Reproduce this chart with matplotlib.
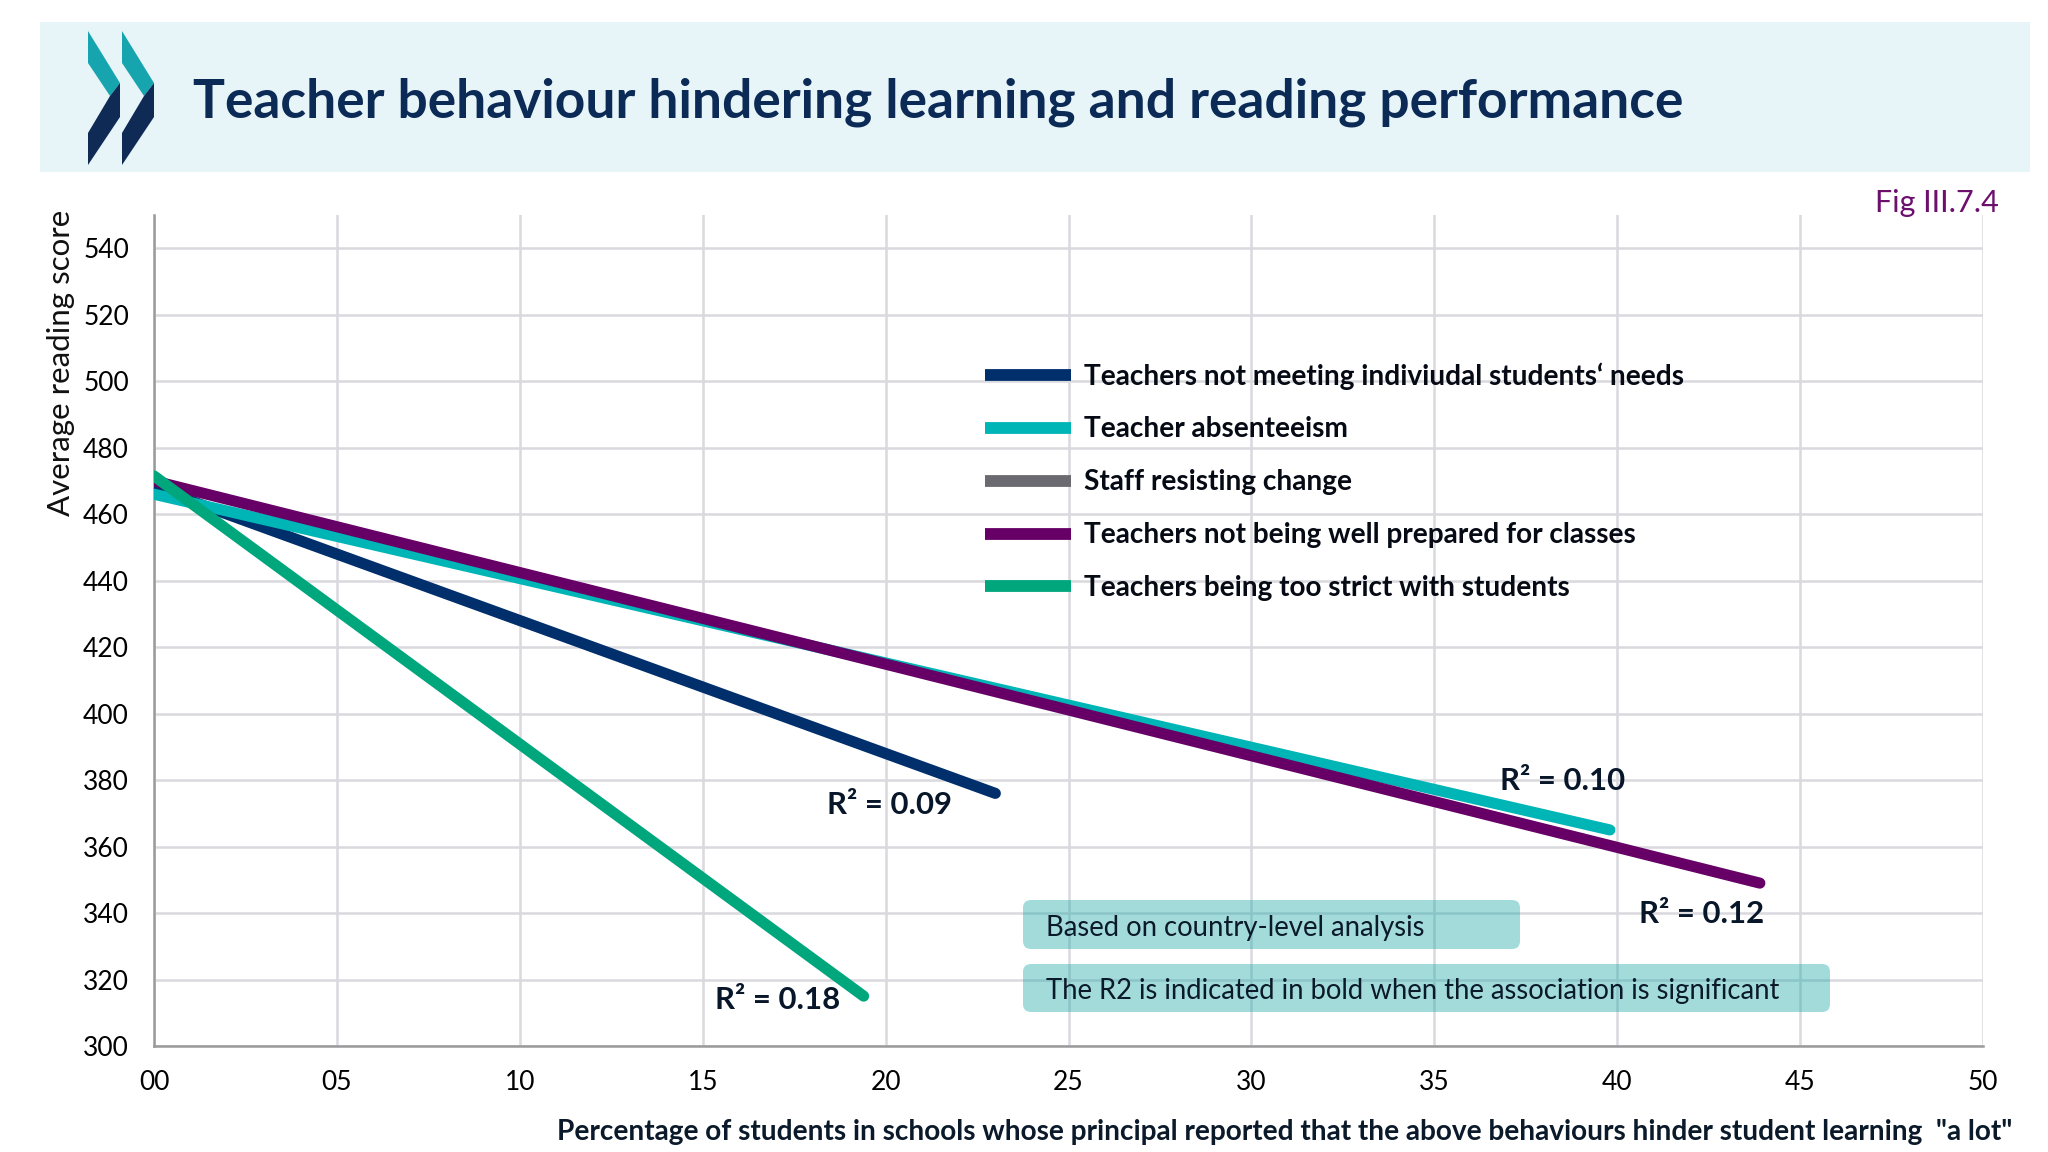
import matplotlib
matplotlib.use("Agg")
import matplotlib.pyplot as plt
from matplotlib.lines import Line2D
from matplotlib.patches import Polygon, FancyBboxPatch, Rectangle

plt.rcParams["font.family"] = ["Lato", "DejaVu Sans"]

# Series (start and end of each fitted line)
not_meeting_x = [0, 23.0]
not_meeting_y = [468, 376]
absenteeism_x = [0, 39.8]
absenteeism_y = [466, 365]
not_prepared_x = [0, 43.9]
not_prepared_y = [470, 349]
too_strict_x = [0, 19.4]
too_strict_y = [471.5, 315]

x_ticks = [0, 5, 10, 15, 20, 25, 30, 35, 40, 45, 50]
x_tick_labels = ["00", "05", "10", "15", "20", "25", "30", "35", "40", "45", "50"]
y_ticks = [300, 320, 340, 360, 380, 400, 420, 440, 460, 480, 500, 520, 540]

legend_labels = [
    "Teachers not meeting indiviudal students\u2018 needs",
    "Teacher absenteeism",
    "Staff resisting change",
    "Teachers not being well prepared for classes",
    "Teachers being too strict with students",
]
legend_colors = ["#002F6C", "#00B5B5", "#6A6A70", "#670066", "#00A67C"]

W, H = 2048, 1152
fig = plt.figure(figsize=(W / 100, H / 100), dpi=100, facecolor="white")

# Full figure overlay in pixel coordinates for banner and notes
bg = fig.add_axes([0, 0, 1, 1], zorder=0)
bg.set_xlim(0, W)
bg.set_ylim(H, 0)
bg.axis("off")
bg.add_patch(Rectangle((40, 22), 1990, 150, color="#E7F5F9", lw=0))
for dx in [0, 34]:
    bg.add_patch(Polygon([(88 + dx, 31), (88 + dx, 63), (110 + dx, 96), (120 + dx, 83)],
                         color="#16A5AE", lw=0))
    bg.add_patch(Polygon([(120 + dx, 83), (120 + dx, 117), (88 + dx, 165), (88 + dx, 133), (110 + dx, 96)],
                         color="#0F2A55", lw=0))
bg.text(193, 102, "Teacher behaviour hindering learning and reading performance",
        fontsize=38.4, fontweight="bold", color="#0B2A55", va="center", ha="left")
bg.text(1999, 203, "Fig III.7.4", fontsize=22, color="#6D0F6D", va="center", ha="right")

ax = fig.add_axes([154 / W, 1 - 1046 / H, (1983 - 154) / W, (1046 - 215) / H], zorder=1)
ax.patch.set_alpha(0)
ax.plot(not_meeting_x, not_meeting_y, color=legend_colors[0], lw=8, solid_capstyle="round", zorder=3)
ax.plot(absenteeism_x, absenteeism_y, color=legend_colors[1], lw=8, solid_capstyle="round", zorder=3)
ax.plot(not_prepared_x, not_prepared_y, color=legend_colors[3], lw=8, solid_capstyle="round", zorder=3)
ax.plot(too_strict_x, too_strict_y, color=legend_colors[4], lw=8, solid_capstyle="round", zorder=3)

ax.set_xlim(0, 50)
ax.set_ylim(300, 550)
ax.set_xticks(x_ticks)
ax.set_xticklabels(x_tick_labels)
ax.set_yticks(y_ticks)
ax.tick_params(length=0, labelsize=19)
ax.tick_params(axis="x", pad=17)
ax.tick_params(axis="y", pad=18)
ax.grid(True, color="#D9D9DE", lw=1.8)
ax.set_axisbelow(True)
for s in ["top", "right"]:
    ax.spines[s].set_visible(False)
for s in ["left", "bottom"]:
    ax.spines[s].set_color("#9A9A9A")
    ax.spines[s].set_linewidth(1.8)

handles = [Line2D([], [], color=c, lw=8.5, solid_capstyle="butt") for c in legend_colors]
ax.legend(handles, legend_labels, loc="upper left", bbox_to_anchor=(0.4543, 0.823),
          frameon=False, borderaxespad=0, borderpad=0, handlelength=3.07, handletextpad=0.47,
          labelspacing=0.96, prop={"size": 20.2, "weight": "bold"}, labelcolor="#050A14")

r2_color = "#08162A"
ax.text(20.1, 372.6, "R\u00b2 = 0.09", fontsize=22.4, fontweight="bold", color=r2_color, ha="center", va="center")
ax.text(38.5, 379.7, "R\u00b2 = 0.10", fontsize=22.4, fontweight="bold", color=r2_color, ha="center", va="center")
ax.text(42.3, 339.6, "R\u00b2 = 0.12", fontsize=22.4, fontweight="bold", color=r2_color, ha="center", va="center")
ax.text(17.05, 313.9, "R\u00b2 = 0.18", fontsize=22.4, fontweight="bold", color=r2_color, ha="center", va="center")

# Notes and axis titles on top of the chart
top = fig.add_axes([0, 0, 1, 1], zorder=2)
top.set_xlim(0, W)
top.set_ylim(H, 0)
top.axis("off")
for x0, y0, x1, y1 in [(1023, 900, 1520, 949), (1023, 964, 1830, 1012)]:
    top.add_patch(FancyBboxPatch((x0 + 6, y0 + 6), x1 - x0 - 12, y1 - y0 - 12,
                                 boxstyle="round,pad=6,rounding_size=8",
                                 fc="#19A7A5", ec="none", alpha=0.4))
top.text(1046, 928, "Based on country-level analysis", fontsize=19.8, color="#0B1A2A", va="center")
top.text(1046, 991, "The R2 is indicated in bold when the association is significant",
         fontsize=19.8, color="#0B1A2A", va="center")
top.text(61, 363, "Average reading score", fontsize=22.5, rotation=90, ha="center", va="center", color="#111111")
top.text(2012, 1132, 'Percentage of students in schools whose principal reported that the above behaviours hinder student learning  "a lot"',
         fontsize=20.2, fontweight="bold", ha="right", va="center", color="#0B1A2A")

fig.savefig("out.png", dpi=100)
